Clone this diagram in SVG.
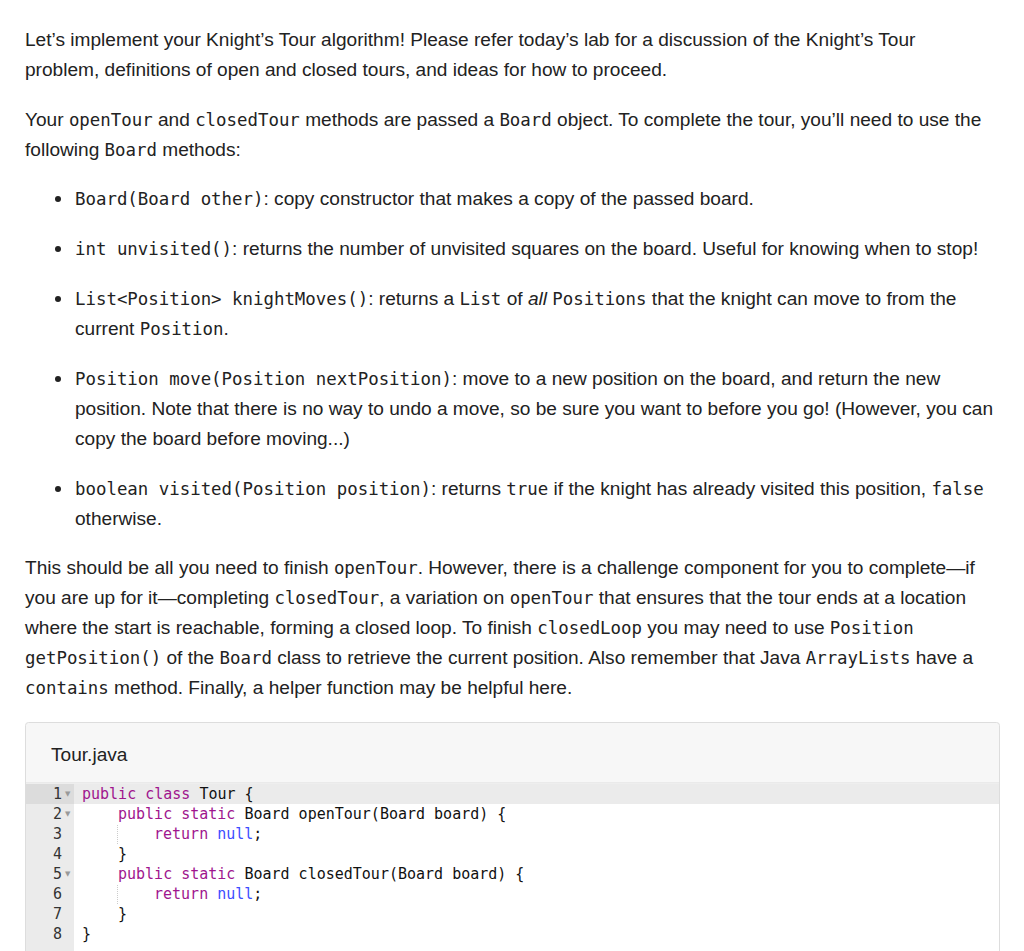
<svg xmlns="http://www.w3.org/2000/svg" width="1024" height="951" viewBox="0 0 1024 951">
<style>
.t{font-family:"Liberation Sans",Arial,sans-serif;font-size:19.1px;fill:#222}
.m{font-family:"DejaVu Sans Mono",monospace;font-size:17.4px}
.c{font-family:"DejaVu Sans Mono",monospace;font-size:15px;fill:#111}
.k{fill:#a0168e}.n{fill:#3d4dff}
.ln{font-family:"DejaVu Sans Mono",monospace;font-size:15px;fill:#333;text-anchor:end}
.ar{font-family:"DejaVu Sans",sans-serif;font-size:7px;fill:#999}
</style>
<rect width="1024" height="951" fill="#fff"/>
<g class="t">
<text x="25" y="46">Let’s implement your Knight’s Tour algorithm! Please refer today’s lab for a discussion of the Knight’s Tour</text>
<text x="25" y="76">problem, definitions of open and closed tours, and ideas for how to proceed.</text>
<text x="25" y="126">Your <tspan class="m">openTour</tspan> and <tspan class="m">closedTour</tspan> methods are passed a <tspan class="m">Board</tspan> object. To complete the tour, you’ll need to use the</text>
<text x="25" y="156">following <tspan class="m">Board</tspan> methods:</text>
<circle cx="58" cy="199" r="3" fill="#222"/><circle cx="58" cy="249" r="3" fill="#222"/><circle cx="58" cy="299" r="3" fill="#222"/><circle cx="58" cy="379" r="3" fill="#222"/><circle cx="58" cy="489" r="3" fill="#222"/>
<text x="75" y="205"><tspan class="m">Board(Board other)</tspan>: copy constructor that makes a copy of the passed board.</text>
<text x="75" y="255"><tspan class="m">int unvisited()</tspan>: returns the number of unvisited squares on the board. Useful for knowing when to stop!</text>
<text x="75" y="305"><tspan class="m">List&lt;Position&gt; knightMoves()</tspan>: returns a <tspan class="m">List</tspan> of <tspan font-style="italic">all</tspan> <tspan class="m">Positions</tspan> that the knight can move to from the</text>
<text x="75" y="335">current <tspan class="m">Position</tspan>.</text>
<text x="75" y="385"><tspan class="m">Position move(Position nextPosition)</tspan>: move to a new position on the board, and return the new</text>
<text x="75" y="415">position. Note that there is no way to undo a move, so be sure you want to before you go! (However, you can</text>
<text x="75" y="445">copy the board before moving...)</text>
<text x="75" y="495"><tspan class="m">boolean visited(Position position)</tspan>: returns <tspan class="m">true</tspan> if the knight has already visited this position, <tspan class="m">false</tspan></text>
<text x="75" y="525">otherwise.</text>
<text x="25" y="574">This should be all you need to finish <tspan class="m">openTour</tspan>. However, there is a challenge component for you to complete—if</text>
<text x="25" y="604">you are up for it—completing <tspan class="m">closedTour</tspan>, a variation on <tspan class="m">openTour</tspan> that ensures that the tour ends at a location</text>
<text x="25" y="634">where the start is reachable, forming a closed loop. To finish <tspan class="m">closedLoop</tspan> you may need to use <tspan class="m">Position</tspan></text>
<text x="25" y="664"><tspan class="m">getPosition()</tspan> of the <tspan class="m">Board</tspan> class to retrieve the current position. Also remember that Java <tspan class="m">ArrayLists</tspan> have a</text>
<text x="25" y="694"><tspan class="m">contains</tspan> method. Finally, a helper function may be helpful here.</text>
</g>
<g id="code">
<rect x="25.5" y="722.5" width="974" height="240" rx="3" fill="#f7f7f7" stroke="#ddd"/>
<rect x="26" y="783" width="973" height="170" fill="#fff"/>
<line x1="26" y1="783" x2="999" y2="783" stroke="#ddd"/>
<rect x="26" y="784" width="48" height="170" fill="#ebebeb"/>
<rect x="74" y="784" width="925" height="20" fill="#ebebeb"/>
<rect x="26" y="784" width="48" height="20" fill="#dcdcdc"/>
<text x="51" y="761" class="t" font-size="19">Tour.java</text>
<g class="ln"><text x="62" y="799">1</text><text x="62" y="819">2</text><text x="62" y="839">3</text><text x="62" y="859">4</text><text x="62" y="879">5</text><text x="62" y="899">6</text><text x="62" y="919">7</text><text x="62" y="939">8</text></g>
<g class="ar"><text x="65" y="796">▼</text><text x="65" y="816">▼</text><text x="65" y="876">▼</text></g>
<line x1="117.5" y1="825" x2="117.5" y2="845" stroke="#ccc" stroke-dasharray="1,1"/>
<line x1="117.5" y1="885" x2="117.5" y2="905" stroke="#ccc" stroke-dasharray="1,1"/>
<g class="c">
<text x="82" y="799"><tspan class="k">public class</tspan> Tour {</text>
<text x="118" y="819"><tspan class="k">public static</tspan> Board openTour(Board board) {</text>
<text x="154" y="839"><tspan class="k">return</tspan> <tspan class="n">null</tspan>;</text>
<text x="118" y="859">}</text>
<text x="118" y="879"><tspan class="k">public static</tspan> Board closedTour(Board board) {</text>
<text x="154" y="899"><tspan class="k">return</tspan> <tspan class="n">null</tspan>;</text>
<text x="118" y="919">}</text>
<text x="82" y="939">}</text>
</g>
</g>
</svg>
